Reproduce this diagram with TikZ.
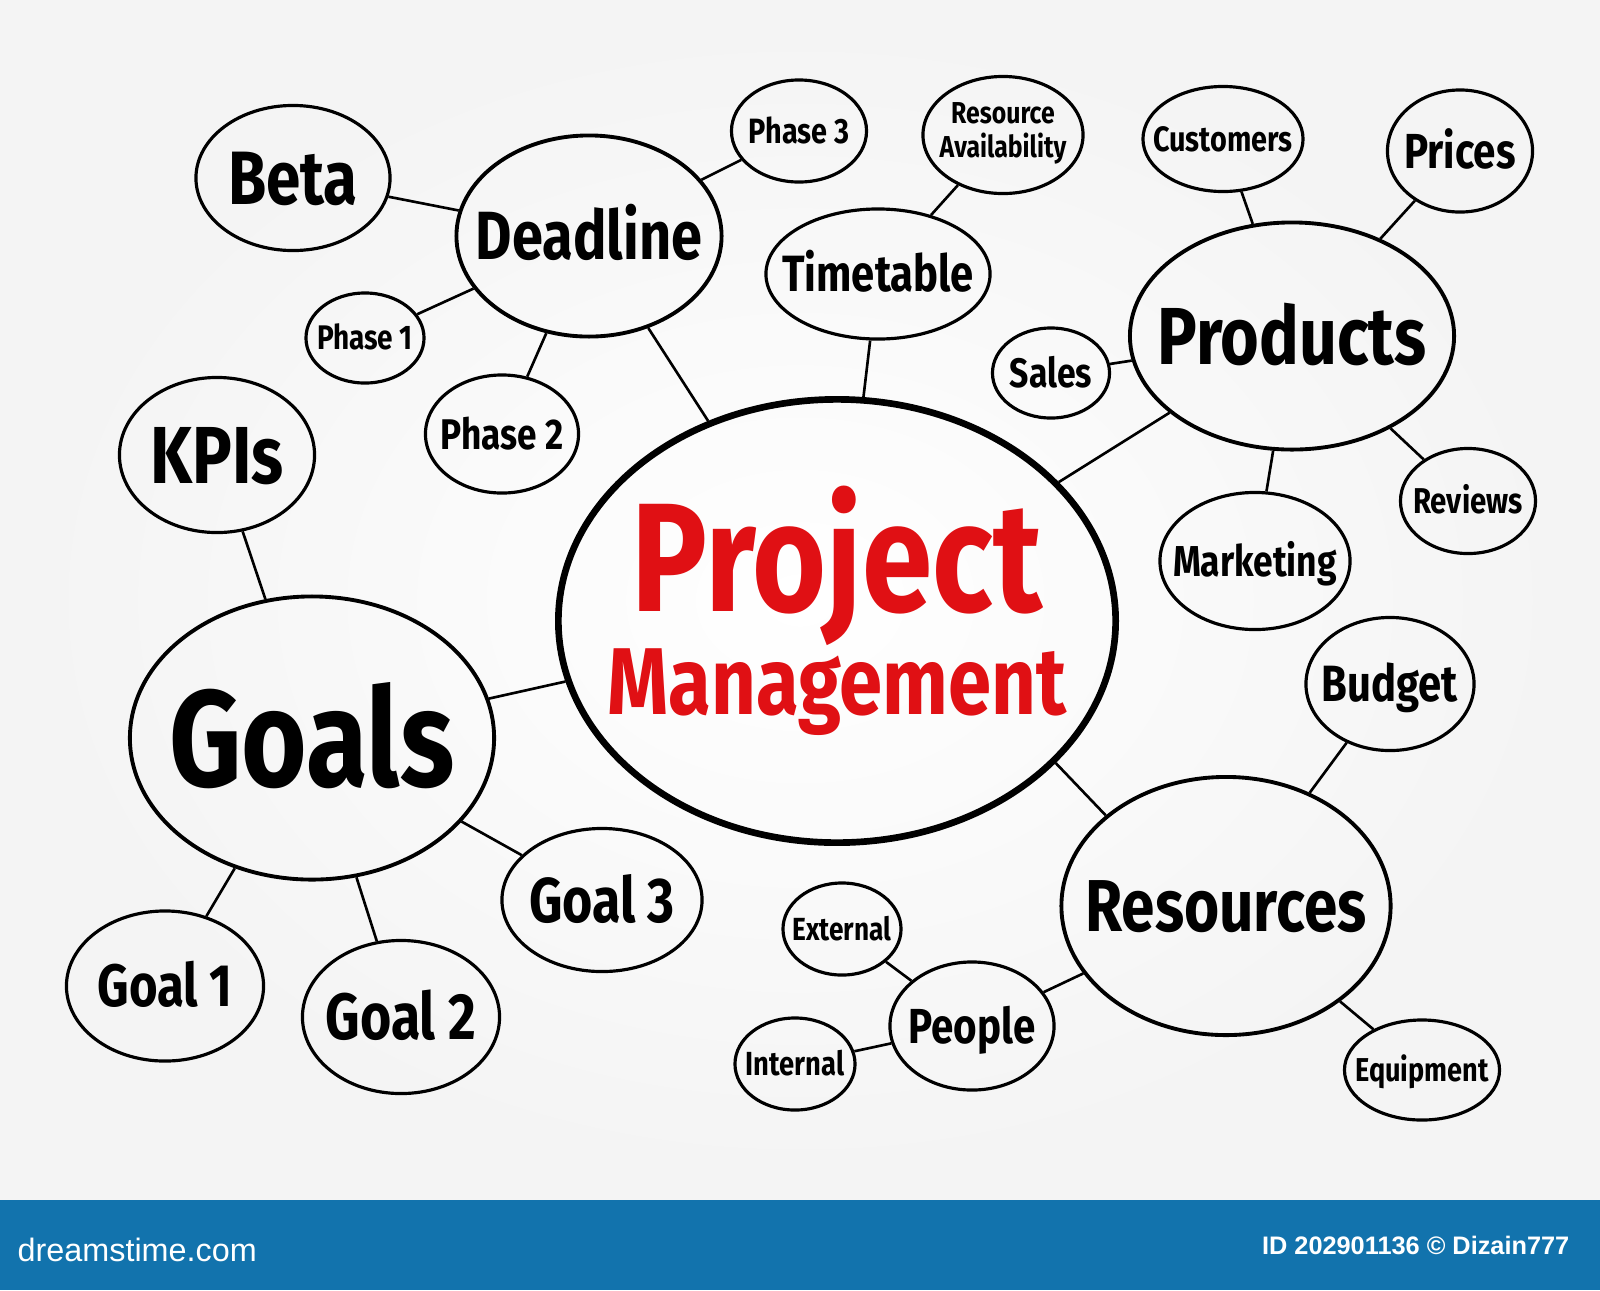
\documentclass[tikz,border=0pt]{standalone}
\usepackage{fontspec}
\setmainfont{Fira Sans}[FakeStretch=0.82]
\newfontfamily\footfont{Liberation Sans}
\usepackage{tikz}
\usetikzlibrary{shapes,positioning}
\definecolor{pmred}{RGB}{224,16,20}
\definecolor{footblue}{RGB}{18,115,173}
\newcommand\fit[2][-0.35em]{\smash{\makebox[0pt]{\raisebox{#1}{#2}}}}
\tikzset{
    basic/.style = {draw, ellipse, inner sep=0pt, align=center, text=black},
    leaf/.style 2 args = {basic, line width=0.9pt, minimum width=#1, minimum height=#2},
    branch/.style 2 args = {basic, line width=1.1pt, minimum width=#1, minimum height=#2},
    root/.style = {basic, line width=1.9pt, minimum width=5.57cm, minimum height=4.43cm},
    txt/.style = {font=\bfseries\fontsize{#1}{#1}\selectfont},
    link/.style = {draw, line width=0.75pt}
}
\begin{document}
\begin{tikzpicture}[x=0.01cm, y=-0.01cm]
    \useasboundingbox (0,0) rectangle (1600,1290);
    \shade[inner color=white, outer color=gray!9] (0,0) rectangle (1600,1200);
    \fill[footblue] (0,1200) rectangle (1600,1290);
    \node[anchor=west, inner sep=0pt, text=white, font=\footfont\fontsize{9.2}{10}\selectfont] (site) at (17,1250) {dreamstime.com};
    \node[anchor=east, inner sep=0pt, text=white, font=\footfont\bfseries\fontsize{7.2}{8}\selectfont] (imgid) at (1570,1245) {ID 202901136 © Dizain777};

    \node[root, text=pmred, font=\bfseries] (pm) at (837,621) {\fit[2.6pt]{\fontsize{44}{44}\selectfont Project}\fit[-26.5pt]{\fontsize{27}{27}\selectfont Management}};

    \node[branch={3.64cm}{2.83cm}, txt=39] (goals) at (312,738) {\fit{Goals}};
    \node[leaf={1.95cm}{1.55cm}, txt=23] (kpis) at (217,455) {\fit{KPIs}};
    \node[leaf={1.97cm}{1.50cm}, txt=17] (goal1) at (165,986) {\fit{Goal 1}};
    \node[leaf={1.97cm}{1.53cm}, txt=18.6] (goal2) at (401,1017) {\fit{Goal 2}};
    \node[leaf={2.00cm}{1.43cm}, txt=18] (goal3) at (602,900) {\fit{Goal 3}};

    \node[branch={2.65cm}{2.01cm}, txt=19.4] (deadline) at (589,236) {\fit{Deadline}};
    \node[leaf={1.94cm}{1.45cm}, txt=21.5] (beta) at (293,178) {\fit{Beta}};
    \node[leaf={1.35cm}{1.02cm}, txt=10] (phase3) at (799,131) {\fit{Phase 3}};
    \node[leaf={1.18cm}{0.90cm}, txt=9.7] (phase1) at (365,338) {\fit{Phase 1}};
    \node[leaf={1.53cm}{1.18cm}, txt=12.2] (phase2) at (502,434) {\fit{Phase 2}};

    \node[leaf={2.24cm}{1.30cm}, txt=14.5] (timetable) at (878,274) {\fit{Timetable}};
    \node[leaf={1.60cm}{1.17cm}, txt=8.6] (resavail) at (1003,135) {\fit[-0.25em]{\begin{tabular}{@{}c@{}}Resource\\Availability\end{tabular}}};

    \node[branch={3.24cm}{2.27cm}, txt=23] (products) at (1292,336) {\fit{Products}};
    \node[leaf={1.60cm}{1.05cm}, txt=10] (customers) at (1223,139) {\fit{Customers}};
    \node[leaf={1.45cm}{1.22cm}, txt=14] (prices) at (1460,151) {\fit{Prices}};
    \node[leaf={1.17cm}{0.90cm}, txt=11.7] (sales) at (1051,373) {\fit{Sales}};
    \node[leaf={1.35cm}{1.05cm}, txt=10.2] (reviews) at (1468,501) {\fit{Reviews}};
    \node[leaf={1.90cm}{1.37cm}, txt=12.3] (marketing) at (1255,561) {\fit{Marketing}};

    \node[branch={3.29cm}{2.58cm}, txt=20.9] (resources) at (1226,906) {\fit{Resources}};
    \node[leaf={1.68cm}{1.33cm}, txt=14.5] (budget) at (1390,684) {\fit{Budget}};
    \node[leaf={1.55cm}{1.00cm}, txt=9.4] (equipment) at (1422,1070) {\fit{Equipment}};
    \node[leaf={1.64cm}{1.28cm}, txt=14] (people) at (972,1026) {\fit{People}};
    \node[leaf={1.18cm}{0.92cm}, txt=9.1] (external) at (842,929) {\fit{External}};
    \node[leaf={1.20cm}{0.92cm}, txt=9.5] (internal) at (795,1064) {\fit{Internal}};

    \foreach \a/\b in {pm/goals, pm/deadline, pm/timetable, pm/products,
        goals/kpis, goals/goal1, goals/goal2, goals/goal3,
        deadline/beta, deadline/phase3, deadline/phase1, deadline/phase2,
        timetable/resavail,
        products/customers, products/prices, products/sales, products/reviews, products/marketing,
        resources/budget, resources/equipment, resources/people,
        people/external, people/internal}
        \draw[link] (\a) -- (\b);
    \draw[link] (pm.-33) -- (resources.143);
\end{tikzpicture}
\end{document}
